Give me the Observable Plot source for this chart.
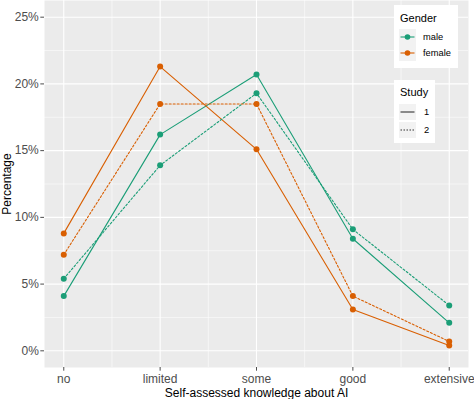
<!DOCTYPE html>
<html>
<head>
<meta charset="utf-8">
<script src="https://cdn.jsdelivr.net/npm/d3@7"></script>
<script src="https://cdn.jsdelivr.net/npm/@observablehq/plot@0.6"></script>
<style>
  html, body { margin: 0; padding: 0; background: white; }
  #wrap { position: relative; width: 474px; height: 399px; font-family: "Liberation Sans", Arial, sans-serif; }
  .lg { position: absolute; background: white; }
  .lt { position: absolute; font-size: 11px; color: #000; line-height: 12px; }
  .ll { position: absolute; font-size: 9.3px; color: #000; line-height: 10px; }
  .lk { position: absolute; }
</style>
</head>
<body>
<div id="wrap"></div>
<script>
const levels = ["no", "limited", "some", "good", "extensive"];
const genders = ["male", "female"];
const studies = ["1", "2"];
const male1 = [4.1, 16.2, 20.7, 8.4, 2.1];
const male2 = [5.4, 13.9, 19.3, 9.1, 3.4];
const female1 = [8.8, 21.3, 15.1, 3.1, 0.4];
const female2 = [7.2, 18.5, 18.5, 4.1, 0.7];
const yTicks = [0, 5, 10, 15, 20, 25];
const yMinor = [2.5, 7.5, 12.5, 17.5, 22.5];
const xMinor = [1.5, 2.5, 3.5, 4.5];
const colors = ["#1B9E77", "#D95F02"];

const series = [
  {gender: "male", study: "1", values: male1},
  {gender: "male", study: "2", values: male2},
  {gender: "female", study: "1", values: female1},
  {gender: "female", study: "2", values: female2}
];
const rows = series.flatMap(s => s.values.map((v, i) => ({k: i + 1, level: levels[i], value: v, gender: s.gender, study: s.study})));
const xPos = levels.map((_, i) => i + 1);

const chart = Plot.plot({
  width: 474, height: 399,
  marginLeft: 44, marginRight: 6, marginTop: 0, marginBottom: 32,
  style: {fontFamily: "'Liberation Sans', Arial, sans-serif", background: "white", overflow: "visible"},
  x: {domain: [0.8, 5.2], axis: null},
  y: {domain: [-1.25, 26.25], axis: null},
  color: {domain: genders, range: colors},
  marks: [
    Plot.frame({fill: "#EBEBEB", stroke: "none"}),
    Plot.gridY(yMinor, {stroke: "white", strokeOpacity: 1, strokeWidth: 0.55}),
    Plot.gridX(xMinor, {stroke: "white", strokeOpacity: 1, strokeWidth: 0.55}),
    Plot.gridY(yTicks, {stroke: "white", strokeOpacity: 1, strokeWidth: 1.1}),
    Plot.gridX(xPos, {stroke: "white", strokeOpacity: 1, strokeWidth: 1.1}),
    Plot.axisY(yTicks, {tickSize: 3.7, tickPadding: 2, tickFormat: d => d + "%", fontSize: 12, color: "#4D4D4D", label: null}),
    Plot.axisX(xPos, {tickSize: 3.7, tickPadding: 3, tickFormat: d => levels[d - 1], fontSize: 12, color: "#4D4D4D", label: null}),
    Plot.line(rows.filter(d => d.study === "1"), {x: "k", y: "value", z: "gender", stroke: "gender", strokeWidth: 1.1}),
    Plot.line(rows.filter(d => d.study === "2"), {x: "k", y: "value", z: "gender", stroke: "gender", strokeWidth: 1.1, strokeDasharray: "2,2"}),
    Plot.dot(rows, {x: "k", y: "value", fill: "gender", r: 3}),
    Plot.text(["Self-assessed knowledge about AI"], {text: d => d, frameAnchor: "bottom", dy: 26, lineAnchor: "middle", fontSize: 12, fill: "black"}),
    Plot.text(["Percentage"], {text: d => d, frameAnchor: "left", dx: -37, rotate: -90, textAnchor: "middle", lineAnchor: "middle", fontSize: 12, fill: "black"})
  ]
});

const wrap = document.getElementById("wrap");
wrap.appendChild(chart);

function box(left, top, w, h) {
  const d = document.createElement("div");
  d.className = "lg";
  Object.assign(d.style, {left: left + "px", top: top + "px", width: w + "px", height: h + "px"});
  wrap.appendChild(d);
}
function txt(cls, s, left, cy, h) {
  const d = document.createElement("div");
  d.className = cls;
  d.textContent = s;
  Object.assign(d.style, {left: left + "px", top: (cy - h / 2) + "px"});
  wrap.appendChild(d);
}
function key(left, cy, color, dash, dot) {
  const ns = "http://www.w3.org/2000/svg";
  const s = document.createElementNS(ns, "svg");
  s.setAttribute("width", 17); s.setAttribute("height", 16);
  s.setAttribute("class", "lk");
  s.style.left = left + "px"; s.style.top = (cy - 8) + "px";
  const r = document.createElementNS(ns, "rect");
  r.setAttribute("width", 17); r.setAttribute("height", 16); r.setAttribute("fill", "#F2F2F2");
  s.appendChild(r);
  const l = document.createElementNS(ns, "line");
  l.setAttribute("x1", 1.5); l.setAttribute("x2", 15.5); l.setAttribute("y1", 8); l.setAttribute("y2", 8);
  l.setAttribute("stroke", color); l.setAttribute("stroke-width", 1.1);
  if (dash) l.setAttribute("stroke-dasharray", dash);
  s.appendChild(l);
  if (dot) {
    const c = document.createElementNS(ns, "circle");
    c.setAttribute("cx", 8.5); c.setAttribute("cy", 8); c.setAttribute("r", 2.8); c.setAttribute("fill", color);
    s.appendChild(c);
  }
  wrap.appendChild(s);
}

// Gender legend
box(394, 5, 64, 63);
txt("lt", "Gender", 400, 18, 12);
genders.forEach((g, i) => {
  key(399, 37 + i * 16, colors[i], null, true);
  txt("ll", g, 423, 37 + i * 16, 10);
});
// Study legend
box(394, 80, 41, 63);
txt("lt", "Study", 400, 92, 12);
studies.forEach((s, i) => {
  key(399, 112 + i * 18, "#333333", i === 0 ? null : "1.5,1.5", false);
  txt("ll", s, 424, 112 + i * 18, 10);
});
</script>
</body>
</html>
